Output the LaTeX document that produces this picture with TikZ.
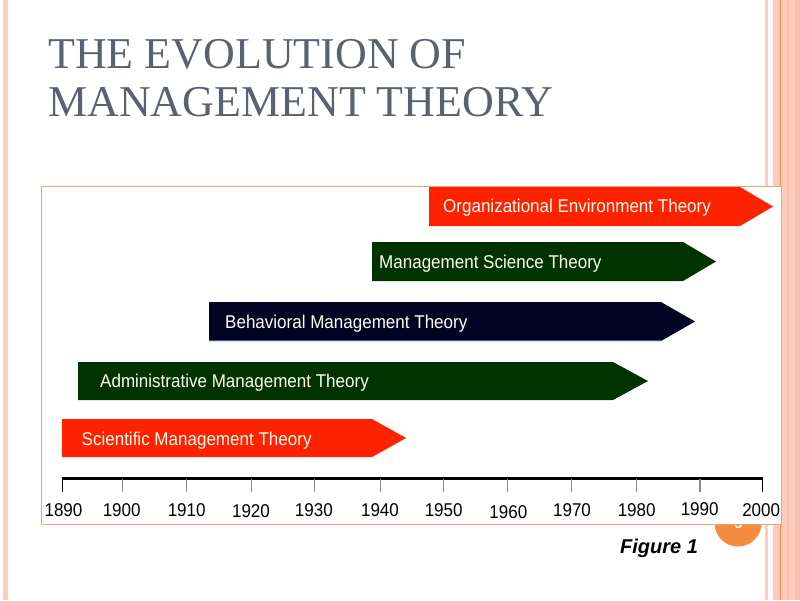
\documentclass[tikz,border=0pt]{standalone}
\usepackage{fontspec}
\setmainfont{Liberation Serif}
\setsansfont{Liberation Sans}
\definecolor{pinkbar}{HTML}{FFCCBC}
\definecolor{pinkdark}{HTML}{FBC0AC}
\definecolor{orangeline}{HTML}{F08A4B}
\definecolor{boxline}{HTML}{F2A271}
\definecolor{circfill}{HTML}{F58B3F}
\definecolor{arred}{HTML}{FF2200}
\definecolor{argreen}{HTML}{003300}
\definecolor{arnavy}{HTML}{000322}
\definecolor{navyedge}{HTML}{4A56A0}
\definecolor{titlegrey}{HTML}{5A6170}
\definecolor{tickgrey}{HTML}{8A8A8A}
\definecolor{txtwhite}{HTML}{FFFFF2}
\newcommand\evarrow[6]{\fill[#6] (#1,#2) -- (#4,#2) -- (#5,{(#2+#3)/2}) -- (#4,#3) -- (#1,#3) -- cycle;}
\tikzset{
  bartext/.style={anchor=base west, inner sep=0pt, text=txtwhite, xscale=0.92,
    font=\sffamily\fontsize{18.5}{20}\selectfont},
  yearlabel/.style={anchor=base, inner sep=0pt, text=black, xscale=0.92,
    font=\sffamily\fontsize{18.5}{20}\selectfont},
  titletext/.style={anchor=base west, inner sep=0pt, text=titlegrey,
    font=\rmfamily\fontsize{44}{48}\selectfont},
}
\begin{document}
\begin{tikzpicture}[x=1pt,y=-1pt]
\useasboundingbox (0,0) rectangle (800,600);
\fill[white] (0,0) rectangle (800,600);
% side stripes
\fill[pinkbar] (3,0) rectangle (8,600);
\fill[pinkbar] (765,0) rectangle (768,600);
\fill[pinkbar] (773,0) rectangle (800,600);
\fill[pinkdark] (787,0) rectangle (789,600);
\fill[pinkdark] (795,0) rectangle (800,600);
\draw[orangeline, line width=1pt] (780.5,0) -- (780.5,600);
% title
\node[titletext] (title1) at (48,68.5) {THE EVOLUTION OF};
\node[titletext] (title2) at (48,116.8) {MANAGEMENT THEORY};
% slide number circle
\node[circle, fill=circfill, minimum size=47pt, inner sep=0pt] (slidenum) at (738,523) {};
\node[text=white, font=\sffamily\bfseries\fontsize{14}{14}\selectfont, inner sep=0pt] (slidedigit) at (738.5,524) {5};
% figure box
\draw[boxline, fill=white, line width=1pt] (41.7,186) rectangle (781.7,524.5);
% arrows
\evarrow{429}{187}{226}{740}{773}{arred}
\evarrow{372}{242}{281}{683}{716}{argreen}
\evarrow{209}{302}{341}{661}{695}{arnavy}
\draw[navyedge, line width=0.8pt] (209,340.6) -- (661,340.6);
\evarrow{78}{362}{400}{613}{648}{argreen}
\evarrow{62}{419}{457}{372}{406}{arred}
\node[bartext] (oet) at (443,212.6) {Organizational Environment Theory};
\node[bartext] (mst) at (379,268.2) {Management Science Theory};
\node[bartext] (bmt) at (225,328.2) {Behavioral Management Theory};
\node[bartext] (amt) at (100,387.8) {Administrative Management Theory};
\node[bartext] (smt) at (81.5,445) {Scientific Management Theory};
% axis
\draw[black, line width=3.3pt] (62,478.3) -- (763,478.3);
\draw[black, line width=1.2pt] (62.7,479) -- (62.7,491.7);
\draw[black, line width=1.2pt] (762.3,479) -- (762.3,491.7);
\foreach \tx in {122.3,186.7,251.3,314.3,380.3,443.7,507.7,571.7,636.7,700}
  \draw[tickgrey, line width=1.2pt] (\tx,479) -- (\tx,491.7);
\node[yearlabel] (y1890) at (63.5,516.6) {1890};
\node[yearlabel] (y1900) at (121.7,516.6) {1900};
\node[yearlabel] (y1910) at (186.7,516.6) {1910};
\node[yearlabel] (y1920) at (251,517) {1920};
\node[yearlabel] (y1930) at (313.8,516.6) {1930};
\node[yearlabel] (y1940) at (380,516.6) {1940};
\node[yearlabel] (y1950) at (443.7,516.6) {1950};
\node[yearlabel] (y1960) at (508.3,518.3) {1960};
\node[yearlabel] (y1970) at (572,516.7) {1970};
\node[yearlabel] (y1980) at (636.7,516.3) {1980};
\node[yearlabel] (y1990) at (699.7,515.7) {1990};
\node[yearlabel] (y2000) at (761.2,516.6) {2000};
% caption
\node[anchor=base west, inner sep=0pt, font=\sffamily\bfseries\itshape\fontsize{20}{21}\selectfont] (fig) at (620,553.3) {Figure 1};
\end{tikzpicture}
\end{document}
